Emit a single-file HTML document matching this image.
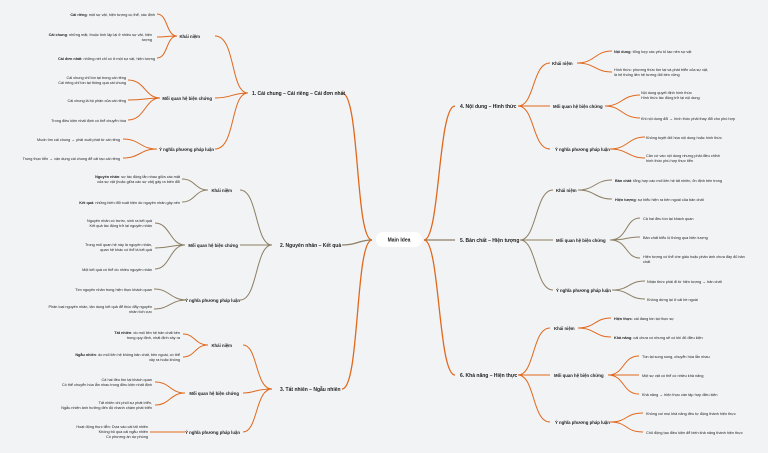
<!DOCTYPE html>
<html><head><meta charset="utf-8"><style>
html,body{margin:0;padding:0;background:#f2f3f5;}
svg{display:block}
text{font-family:"Liberation Sans",sans-serif;fill:#222}
.m{font-size:5px;font-weight:bold}
.s{font-size:4.3px;font-weight:bold}
.l{font-size:3.8px}
.o{stroke:#e0681c;fill:none}
.b{stroke:#8c7f63;fill:none}
</style></head><body>
<svg width="768" height="453" viewBox="0 0 768 453" xmlns="http://www.w3.org/2000/svg">
<rect width="768" height="453" fill="#f2f3f5"/>
<path class="o" stroke-width="1.3" d="M372 240 C355 240,360 93,342 93"/>
<path class="b" stroke-width="1.3" d="M372 240 C358 240,358 245,342 245"/>
<path class="o" stroke-width="1.3" d="M372 240 C355 240,360 389,342 389"/>
<path class="o" stroke-width="1.3" d="M424 240 C440 240,438 106,455 106"/>
<path class="b" stroke-width="1.3" d="M424 240 C440 240,440 240,455 240"/>
<path class="o" stroke-width="1.3" d="M424 240 C440 240,438 375,455 375"/>
<rect x="376" y="232" width="46" height="15" rx="7" fill="#fff"/>
<text class="m" x="399" y="241.5" text-anchor="middle">Main Idea</text>

<text class="m" x="252" y="95">1. Cái chung – Cái riêng – Cái đơn nhất</text>
<path class="o" d="M248 93 C230 93,236 36,215 36 M248 93 C232 93,232 98,215 98 M248 93 C230 93,236 149,215 149"/>
<text class="s" x="200" y="38" text-anchor="end">Khái niệm</text>
<text class="s" x="212" y="100" text-anchor="end">Mối quan hệ biện chứng</text>
<text class="s" x="214" y="151" text-anchor="end">Ý nghĩa phương pháp luận</text>
<path class="o" d="M177 36 C166 36,168 14,157 14 M177 36 C166 36,168 37,157 37 M177 36 C166 36,168 58,157 58"/>
<text class="l" x="155" y="16" text-anchor="end"><tspan font-weight="bold">Cái riêng</tspan>: một sự vật, hiện tượng cụ thể, xác định</text>
<text class="l" x="152" y="36" text-anchor="end"><tspan font-weight="bold">Cái chung</tspan>: những mặt, thuộc tính lặp lại ở nhiều sự vật, hiện</text>
<text class="l" x="152" y="41" text-anchor="end">tượng</text>
<text class="l" x="155" y="60" text-anchor="end"><tspan font-weight="bold">Cái đơn nhất</tspan>: những nét chỉ có ở một sự vật, hiện tượng</text>
<path class="o" d="M160 98 C145 98,145 80,128 80 M160 98 C145 98,145 100,128 100 M160 98 C145 98,145 120,128 120"/>
<text class="l" x="126" y="79" text-anchor="end">Cái chung chỉ tồn tại trong cái riêng</text>
<text class="l" x="126" y="84" text-anchor="end">Cái riêng chỉ tồn tại thông qua cái chung</text>
<text class="l" x="126" y="102" text-anchor="end">Cái chung là bộ phận của cái riêng</text>
<text class="l" x="126" y="122" text-anchor="end">Trong điều kiện nhất định có thể chuyển hóa</text>
<path class="o" d="M157 149 C140 149,140 139,123 139 M157 149 C140 149,140 158,123 158"/>
<text class="l" x="120" y="141" text-anchor="end">Muốn tìm cái chung → phải xuất phát từ cái riêng</text>
<text class="l" x="120" y="160" text-anchor="end">Trong thực tiễn → vận dụng cái chung để cải tạo cái riêng</text>

<text class="m" x="280" y="247">2. Nguyên nhân – Kết quả</text>
<path class="b" d="M272 245 C255 245,258 190,240 190 M272 245 C255 245,255 245,240 245 M272 245 C255 245,258 300,240 300"/>
<text class="s" x="232" y="192" text-anchor="end">Khái niệm</text>
<text class="s" x="238" y="247" text-anchor="end">Mối quan hệ biện chứng</text>
<text class="s" x="240" y="302" text-anchor="end">Ý nghĩa phương pháp luận</text>
<path class="b" d="M208 190 C195 190,195 179,182 179 M208 190 C195 190,195 202,182 202"/>
<text class="l" x="180" y="178" text-anchor="end"><tspan font-weight="bold">Nguyên nhân</tspan>: sự tác động lẫn nhau giữa các mặt</text>
<text class="l" x="180" y="183" text-anchor="end">của sự vật (hoặc giữa các sự vật) gây ra biến đổi</text>
<text class="l" x="180" y="204" text-anchor="end"><tspan font-weight="bold">Kết quả</tspan>: những biến đổi xuất hiện do nguyên nhân gây nên</text>
<path class="b" d="M185 245 C170 245,170 223,155 223 M185 245 C170 245,170 248,155 248 M185 245 C170 245,170 269,155 269"/>
<text class="l" x="152" y="222" text-anchor="end">Nguyên nhân có trước, sinh ra kết quả</text>
<text class="l" x="152" y="227" text-anchor="end">Kết quả tác động trở lại nguyên nhân</text>
<text class="l" x="152" y="246" text-anchor="end">Trong mối quan hệ này là nguyên nhân,</text>
<text class="l" x="152" y="251" text-anchor="end">quan hệ khác có thể là kết quả</text>
<text class="l" x="152" y="271" text-anchor="end">Một kết quả có thể do nhiều nguyên nhân</text>
<path class="b" d="M187 300 C170 300,170 289,154 289 M187 300 C170 300,170 309,154 309"/>
<text class="l" x="152" y="291" text-anchor="end">Tìm nguyên nhân trong hiện thực khách quan</text>
<text class="l" x="152" y="308" text-anchor="end">Phân loại nguyên nhân, tận dụng kết quả để thúc đẩy nguyên</text>
<text class="l" x="152" y="313" text-anchor="end">nhân tích cực</text>

<text class="m" x="280" y="391">3. Tất nhiên – Ngẫu nhiên</text>
<path class="o" d="M272 389 C255 389,258 345,243 345 M272 389 C255 389,255 393,243 393 M272 389 C255 389,258 432,243 432"/>
<text class="s" x="232" y="347" text-anchor="end">Khái niệm</text>
<text class="s" x="239" y="395" text-anchor="end">Mối quan hệ biện chứng</text>
<text class="s" x="240" y="434" text-anchor="end">Ý nghĩa phương pháp luận</text>
<path class="o" d="M208 345 C195 345,195 334,183 334 M208 345 C195 345,195 357,183 357"/>
<text class="l" x="180" y="334" text-anchor="end"><tspan font-weight="bold">Tất nhiên</tspan>: do mối liên hệ bản chất bên</text>
<text class="l" x="180" y="339" text-anchor="end">trong quy định, nhất định xảy ra</text>
<text class="l" x="180" y="356" text-anchor="end"><tspan font-weight="bold">Ngẫu nhiên</tspan>: do mối liên hệ không bản chất, bên ngoài, có thể</text>
<text class="l" x="180" y="361" text-anchor="end">xảy ra hoặc không</text>
<path class="o" d="M185 393 C170 393,170 382,155 382 M185 393 C170 393,170 405,155 405"/>
<text class="l" x="152" y="381" text-anchor="end">Cả hai đều tồn tại khách quan</text>
<text class="l" x="152" y="386" text-anchor="end">Có thể chuyển hóa lẫn nhau trong điều kiện nhất định</text>
<text class="l" x="152" y="404" text-anchor="end">Tất nhiên chi phối sự phát triển,</text>
<text class="l" x="152" y="409" text-anchor="end">Ngẫu nhiên ảnh hưởng đến độ nhanh chậm phát triển</text>
<path class="o" d="M185 432 C170 432,165 432,150 432"/>
<text class="l" x="148" y="428" text-anchor="end">Hoạt động thực tiễn: Dựa vào cái tất nhiên</text>
<text class="l" x="148" y="433" text-anchor="end">Không bỏ qua cái ngẫu nhiên</text>
<text class="l" x="148" y="438" text-anchor="end">Có phương án dự phòng</text>

<text class="m" x="460" y="108">4. Nội dung – Hình thức</text>
<path class="o" d="M518 106 C535 106,532 63,550 63 M518 106 L550 106 M518 106 C535 106,532 149,550 149"/>
<text class="s" x="552" y="65">Khái niệm</text>
<text class="s" x="553" y="108">Mối quan hệ biện chứng</text>
<text class="s" x="555" y="151">Ý nghĩa phương pháp luận</text>
<path class="o" d="M577 63 C595 63,595 51,612 51 M577 63 C595 63,595 72,612 72"/>
<text class="l" x="614" y="53"><tspan font-weight="bold">Nội dung</tspan>: tổng hợp các yếu tố tạo nên sự vật</text>
<text class="l" x="614" y="71">Hình thức: phương thức tồn tại và phát triển của sự vật,</text>
<text class="l" x="614" y="76">là hệ thống liên hệ tương đối bền vững</text>
<path class="o" d="M605 106 C622 106,622 95,640 95 M605 106 C622 106,622 118,640 118"/>
<text class="l" x="641" y="94">Nội dung quyết định hình thức</text>
<text class="l" x="641" y="99">Hình thức tác động trở lại nội dung</text>
<text class="l" x="641" y="120">Khi nội dung đổi → hình thức phải thay đổi cho phù hợp</text>
<path class="o" d="M610 149 C628 149,628 137,645 137 M610 149 C628 149,628 158,645 158"/>
<text class="l" x="646" y="139">Không tuyệt đối hóa nội dung hoặc hình thức</text>
<text class="l" x="646" y="157">Căn cứ vào nội dung nhưng phải điều chỉnh</text>
<text class="l" x="646" y="162">hình thức phù hợp thực tiễn</text>

<text class="m" x="460" y="242">5. Bản chất – Hiện tượng</text>
<path class="b" d="M520 240 C537 240,535 190,553 190 M520 240 L553 240 M520 240 C537 240,535 290,553 290"/>
<text class="s" x="556" y="192">Khái niệm</text>
<text class="s" x="556" y="242">Mối quan hệ biện chứng</text>
<text class="s" x="556" y="292">Ý nghĩa phương pháp luận</text>
<path class="b" d="M578 190 C595 190,595 180,612 180 M578 190 C595 190,595 199,612 199"/>
<text class="l" x="615" y="182"><tspan font-weight="bold">Bản chất</tspan>: tổng hợp các mối liên hệ tất nhiên, ổn định bên trong</text>
<text class="l" x="615" y="201"><tspan font-weight="bold">Hiện tượng</tspan>: sự biểu hiện ra bên ngoài của bản chất</text>
<path class="b" d="M610 240 C628 240,625 218,640 218 M610 240 C628 240,625 237,640 237 M610 240 C628 240,625 258,640 258"/>
<text class="l" x="643" y="220">Cả hai đều tồn tại khách quan</text>
<text class="l" x="643" y="239">Bản chất biểu lộ thông qua hiện tượng</text>
<text class="l" x="643" y="258">Hiện tượng có thể che giấu hoặc phản ánh chưa đầy đủ bản</text>
<text class="l" x="643" y="263">chất</text>
<path class="b" d="M612 290 C630 290,628 281,645 281 M612 290 C630 290,628 299,645 299"/>
<text class="l" x="647" y="283">Nhận thức phải đi từ hiện tượng → bản chất</text>
<text class="l" x="647" y="301">Không dừng lại ở cái bề ngoài</text>

<text class="m" x="460" y="377">6. Khả năng – Hiện thực</text>
<path class="o" d="M518 375 C535 375,532 328,550 328 M518 375 L550 375 M518 375 C535 375,532 422,550 422"/>
<text class="s" x="554" y="330">Khái niệm</text>
<text class="s" x="554" y="377">Mối quan hệ biện chứng</text>
<text class="s" x="555" y="424">Ý nghĩa phương pháp luận</text>
<path class="o" d="M578 328 C595 328,595 318,611 318 M578 328 C595 328,595 337,611 337"/>
<text class="l" x="614" y="320"><tspan font-weight="bold">Hiện thực</tspan>: cái đang tồn tại thực sự</text>
<text class="l" x="614" y="339"><tspan font-weight="bold">Khả năng</tspan>: cái chưa có nhưng sẽ có khi đủ điều kiện</text>
<path class="o" d="M608 375 C625 375,622 356,639 356 M608 375 L639 375 M608 375 C625 375,622 394,639 394"/>
<text class="l" x="642" y="358">Tồn tại song song, chuyển hóa lẫn nhau</text>
<text class="l" x="642" y="377">Một sự vật có thể có nhiều khả năng</text>
<text class="l" x="642" y="396">Khả năng → hiện thực cần tập hợp điều kiện</text>
<path class="o" d="M610 422 C628 422,625 413,643 413 M610 422 C628 422,625 432,643 432"/>
<text class="l" x="646" y="415">Không coi mọi khả năng đều tự động thành hiện thực</text>
<text class="l" x="646" y="434">Chủ động tạo điều kiện để biến khả năng thành hiện thực</text>
</svg>
</body></html>
